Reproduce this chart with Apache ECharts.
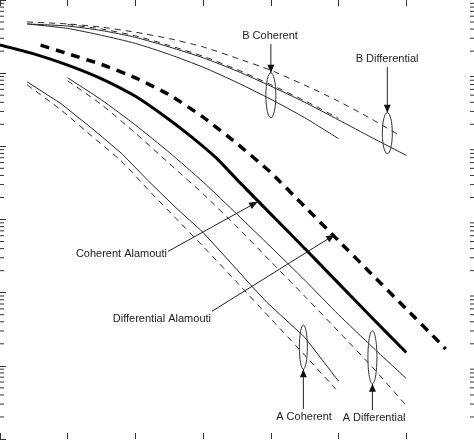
<!DOCTYPE html>
<html><head><meta charset="utf-8">
<script src="https://cdn.jsdelivr.net/npm/echarts@6/dist/echarts.min.js"></script>
<style>html,body{margin:0;padding:0;background:#fff}#c{width:474px;height:440px}</style>
</head><body><div id="c"></div>
<script>
// ---- data (SNR in dB, BER on log scale) ----
const snrCohAlamouti = [0, 2.5, 5, 7.5, 10, 12, 14, 16, 17.5, 20, 22.5, 25, 27.5, 30];
const berCohAlamouti = [0.243, 0.1835, 0.1287, 0.0837, 0.0483, 0.027, 0.01411, 0.00685, 0.00351, 0.001185, 4.02e-4, 1.34e-4, 4.47e-5, 1.52e-5];

const snrDiffAlamouti = [3, 5, 7.5, 10, 12.5, 15, 17.5, 20, 22.5, 25, 27.5, 30, 32.5, 32.9];
const berDiffAlamouti = [0.2418, 0.1846, 0.1315, 0.0864, 0.0505, 0.02506, 0.01087, 0.004375, 0.0015, 5.12e-4, 1.75e-4, 5.98e-5, 2.04e-5, 1.69e-5];

const snrBDiffA = [2, 5, 7.5, 10, 12.5, 15, 17.5, 20, 22.5, 25, 27.5, 29.5];
const berBDiffA = [0.501, 0.4708, 0.4257, 0.3626, 0.2967, 0.2286, 0.1598, 0.1096, 0.0687, 0.0413, 0.02324, 0.01411];

const snrBDiffS = [2, 5, 7.5, 10, 12.5, 15, 17.5, 20, 22.5, 25, 27.5, 30];
const berBDiffS = [0.4708, 0.4406, 0.3826, 0.309, 0.2279, 0.1623, 0.1069, 0.0664, 0.04, 0.02295, 0.01304, 0.00753];

const snrBCohS = [2, 5, 7.5, 10, 12.5, 15, 17.5, 20, 22.5, 25];
const berBCohS = [0.4708, 0.4087, 0.3291, 0.2551, 0.1806, 0.1205, 0.0747, 0.04395, 0.0246, 0.01272];

const snrBCohA = [5, 7.5, 10, 12.5, 15, 17.5, 20, 22.5, 25];
const berBCohA = [0.463, 0.402, 0.324, 0.239, 0.170, 0.112, 0.0697, 0.042, 0.0241];

const snrACohS = [2, 4.5, 7, 9, 11, 13, 15, 17.5, 18.5, 19.7, 22.5, 25];
const berACohS = [0.0762, 0.0384, 0.01635, 0.00794, 0.0033, 0.001443, 6.65e-4, 2.06e-4, 1.28e-4, 7.38e-5, 2.46e-5, 6.17e-6];

const snrACohA = [2, 4.5, 7, 9, 11, 13, 15, 17.5, 20, 22.5, 24.8];
const berACohA = [0.06934, 0.03143, 0.01272, 0.006176, 0.002485, 0.001032, 4.28e-4, 1.382e-4, 4.4e-5, 1.397e-5, 4.8e-6];

const snrADiffS = [5, 7.5, 10, 12.5, 15, 17.5, 20, 22.5, 25, 27.5, 30];
const berADiffS = [0.0864, 0.043, 0.01956, 0.008244, 0.003256, 0.001181, 4.21e-4, 1.481e-4, 5.0e-5, 1.807e-5, 6.7e-6];

const snrADiffA = [5, 7.5, 10, 12.5, 15, 17.5, 20, 22.5, 25, 27.5, 29.9];
const berADiffA = [0.0786, 0.0371, 0.01512, 0.005838, 0.002234, 7.93e-4, 2.657e-4, 8.94e-5, 2.94e-5, 9.56e-6, 3.0e-6];

// axis ticks
const xTickStep = 5;
const decades = [-6, -5, -4, -3, -2, -1];
const minorMultipliers = [2, 3, 4, 5, 6, 7, 8, 9];

// ellipse annotations (anchor = ellipse centre, text anchor) in data space
const noteLabels = ['B Coherent', 'B Differential', 'A Coherent', 'A Differential'];
const noteX = [20.0, 28.6, 22.4, 27.5];
const noteY = [0.0498, 0.01512, 1.8e-5, 1.31e-5];
const noteTextX = [19.94, 28.58, 22.45, 27.62];
const noteTextY = [0.3229, 0.1568, 1.994e-6, 1.93e-6];

// curve labels with arrows
const curveLabels = ['Coherent Alamouti', 'Differential Alamouti'];
const curveTipX = [19.05, 24.74];
const curveTipY = [1.76e-3, 6.24e-4];
const curveTailX = [12.4, 15.65];
const curveTailY = [3.66e-4, 5.56e-5];
const curveTextX = [12.33, 15.58];
const curveTextY = [3.38e-4, 4.4e-5];

// ---- styles ----
const noteRx = [5, 5, 4, 4.5];
const noteRy = [22.5, 20.5, 22, 26.5];
const INK = '#262626';
const FONT = '11px "Liberation Sans", Arial, Helvetica, sans-serif';

const minorTickValues = [];
decades.forEach(d => minorMultipliers.forEach(m => minorTickValues.push([0, m * Math.pow(10, d)])));

function pairs(xs, ys) { return xs.map((x, i) => [x, ys[i]]); }
function lineSeries(name, xs, ys, width, dash, color, smooth) {
  return {
    name, type: 'line', data: pairs(xs, ys), showSymbol: false, symbol: 'none',
    silent: true, z: 3, smooth: smooth === undefined ? 0.2 : smooth,
    lineStyle: { color: color || INK, width, type: dash || 'solid', cap: 'butt', join: 'round' }
  };
}
function arrowHead(tx, ty, fx, fy, len, half) {
  const dx = tx - fx, dy = ty - fy, L = Math.hypot(dx, dy) || 1;
  const ux = dx / L, uy = dy / L;
  const bx = tx - ux * len, by = ty - uy * len;
  return {
    type: 'polygon',
    shape: { points: [[tx, ty], [bx - uy * half, by + ux * half], [bx + uy * half, by - ux * half]] },
    style: { fill: '#111', stroke: null }
  };
}

const axisTickStyle = { show: true, inside: true, length: 6, lineStyle: { color: '#333', width: 1 } };
const xAxisBase = { type: 'value', min: 0, max: 35, interval: xTickStep, axisLine: { show: false },
  axisTick: axisTickStyle, axisLabel: { show: false }, splitLine: { show: false } };
const yAxisBase = { type: 'log', logBase: 10, min: 1e-6, max: 1, splitNumber: 6, axisLine: { show: false },
  axisTick: axisTickStyle, axisLabel: { show: false }, splitLine: { show: false }, minorTick: { show: false } };

const chart = echarts.init(document.getElementById('c'), null, { renderer: 'canvas' });
chart.setOption({
  animation: false,
  backgroundColor: '#ffffff',
  grid: { left: 0, right: 0, top: -1, bottom: 1, containLabel: false },
  xAxis: [Object.assign({ position: 'bottom' }, xAxisBase), Object.assign({ position: 'top' }, xAxisBase)],
  yAxis: [Object.assign({ position: 'left' }, yAxisBase), Object.assign({ position: 'right' }, yAxisBase)],
  series: [
    lineSeries('B Differential analytic', snrBDiffA, berBDiffA, 1, [6, 5]),
    lineSeries('B Differential simulated', snrBDiffS, berBDiffS, 1),
    lineSeries('B Coherent simulated', snrBCohS, berBCohS, 1),
    lineSeries('B Coherent analytic', snrBCohA, berBCohA, 1, [6, 5]),
    lineSeries('A Coherent simulated', snrACohS, berACohS, 1, 'solid', null, false),
    lineSeries('A Coherent analytic', snrACohA, berACohA, 1, [6, 5]),
    lineSeries('A Differential simulated', snrADiffS, berADiffS, 1),
    lineSeries('A Differential analytic', snrADiffA, berADiffA, 1, [6, 5]),
    lineSeries('Coherent Alamouti', snrCohAlamouti, berCohAlamouti, 3, 'solid', '#000'),
    lineSeries('Differential Alamouti', snrDiffAlamouti, berDiffAlamouti, 3.5, [9, 7], '#000'),
    {
      name: 'minor ticks', type: 'custom', silent: true, z: 2,
      data: minorTickValues,
      renderItem: function (params, api) {
        const y = api.coord([0, api.value(1)])[1];
        const cs = params.coordSys;
        const st = { stroke: '#333', lineWidth: 1 };
        return { type: 'group', children: [
          { type: 'line', shape: { x1: cs.x, y1: y, x2: cs.x + 4, y2: y }, style: st },
          { type: 'line', shape: { x1: cs.x + cs.width - 4, y1: y, x2: cs.x + cs.width, y2: y }, style: st }
        ] };
      }
    },
    {
      name: 'ellipse notes', type: 'custom', silent: true, z: 5,
      data: pairs(noteX, noteY),
      renderItem: function (params, api) {
        const i = params.dataIndex;
        const c = api.coord([noteX[i], noteY[i]]);
        const t = api.coord([noteTextX[i], noteTextY[i]]);
        const above = t[1] < c[1];
        const x = c[0];
        const y0 = above ? t[1] + 8 : t[1] - 8;
        const y1 = above ? c[1] - noteRy[i] : c[1] + noteRy[i];
        return { type: 'group', children: [
          { type: 'ellipse', shape: { cx: c[0], cy: c[1], rx: noteRx[i], ry: noteRy[i] },
            style: { fill: null, stroke: '#333', lineWidth: 1 } },
          { type: 'line', shape: { x1: x, y1: y0, x2: x, y2: y1 }, style: { stroke: '#222', lineWidth: 1 } },
          arrowHead(x, y1, x, y0, 8, 3.5),
          { type: 'text', x: t[0], y: t[1],
            style: { text: noteLabels[i], font: FONT, fill: '#222', align: 'center', verticalAlign: 'middle' } }
        ] };
      }
    },
    {
      name: 'curve notes', type: 'custom', silent: true, z: 5,
      data: pairs(curveTipX, curveTipY),
      renderItem: function (params, api) {
        const i = params.dataIndex;
        const tip = api.coord([curveTipX[i], curveTipY[i]]);
        const tail = api.coord([curveTailX[i], curveTailY[i]]);
        const t = api.coord([curveTextX[i], curveTextY[i]]);
        return { type: 'group', children: [
          { type: 'line', shape: { x1: tail[0], y1: tail[1], x2: tip[0], y2: tip[1] }, style: { stroke: '#222', lineWidth: 1 } },
          arrowHead(tip[0], tip[1], tail[0], tail[1], 9, 3.5),
          { type: 'text', x: t[0], y: t[1],
            style: { text: curveLabels[i], font: FONT, fill: '#222', align: 'right', verticalAlign: 'middle' } }
        ] };
      }
    }
  ]
});
</script>
</body></html>
